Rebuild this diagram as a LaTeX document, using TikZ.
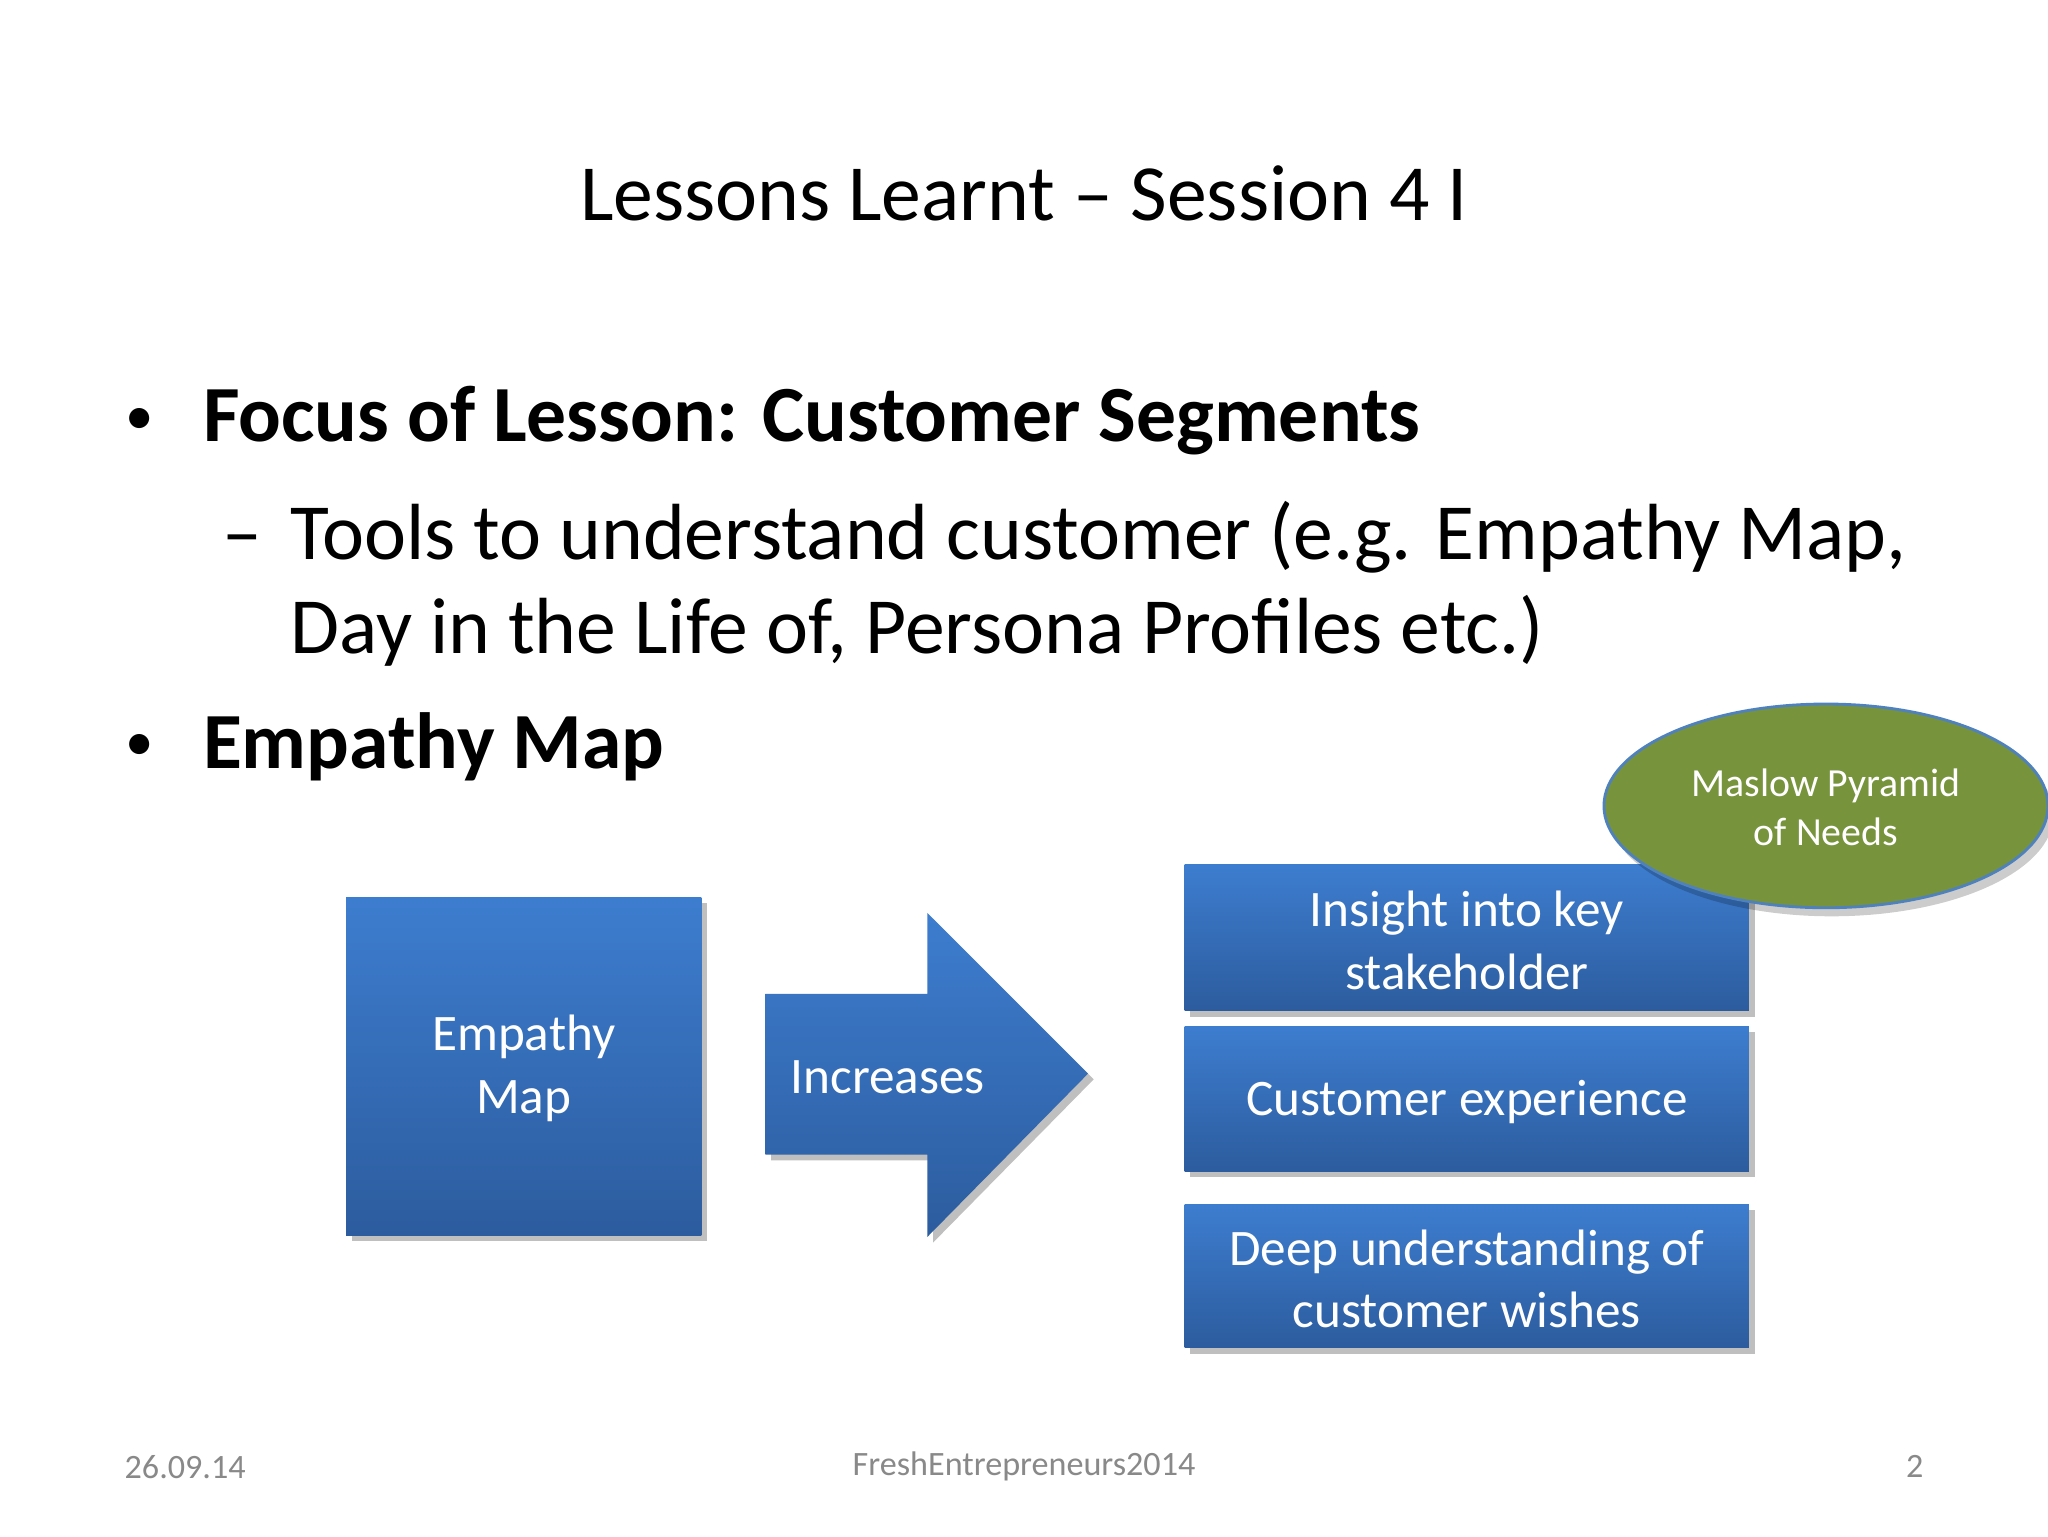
\documentclass[tikz,border=0pt]{standalone}
\usepackage{fontspec}
\setmainfont{Carlito}
\usetikzlibrary{shadows}
\definecolor{btop}{HTML}{3D7DCF}
\definecolor{bbot}{HTML}{2C5C9E}
\definecolor{olive}{HTML}{77933C}
\definecolor{eborder}{HTML}{4F81BD}
\definecolor{foot}{HTML}{898989}
\tikzset{
  blueshape/.style={top color=btop,bottom color=bbot,draw=none,
    drop shadow={shadow xshift=2pt,shadow yshift=-2pt,fill=black,opacity=0.25}},
  boxtext/.style={text=white,font=\fontsize{18}{22}\selectfont,align=center},
  foottext/.style={text=foot,font=\fontsize{12}{14}\selectfont,inner sep=0pt},
  bul/.style={anchor=base west,inner sep=0pt,font=\fontsize{20}{24}\selectfont},
  bigtext/.style={anchor=base west,inner sep=0pt,font=\bfseries\fontsize{28}{34}\selectfont},
  subtext/.style={anchor=base west,inner sep=0pt,font=\fontsize{28}{34}\selectfont},
}
\begin{document}
\begin{tikzpicture}[x=0.4592pt,y=-0.4592pt]
\useasboundingbox (0,0) rectangle (1568,1176);
\fill[white] (0,0) rectangle (1568,1176);
\node[font=\fontsize{28}{34}\selectfont] (title) at (784,148) {Lessons Learnt – Session 4 I};
\node[bul] (d1) at (96,333) {•};
\node[bigtext] (b1) at (155,338) {Focus of Lesson: Customer Segments};
\node[subtext] (dash) at (170,428) {–};
\node[subtext] (s1) at (222,428) {Tools to understand customer (e.g. Empathy Map,};
\node[subtext] (s2) at (222,500) {Day in the Life of, Persona Profiles etc.)};
\node[bul] (d2) at (96,582) {•};
\node[bigtext] (b2) at (155,588) {Empathy Map};
% empathy box
\path[blueshape] (265,687) rectangle (537,946);
\node[boxtext] (em) at (401,818) {Empathy\\Map};
% arrow
\path[blueshape] (586,761) -- (710,761) -- (710,699) -- (833,822) -- (710,947) -- (710,884) -- (586,884) -- cycle;
\node[boxtext,anchor=west,inner sep=0pt] (inc) at (605,825) {Increases};
% boxes
\path[blueshape] (907,662) rectangle (1339,774);
\node[boxtext] (k1) at (1123,720) {Insight into key\\stakeholder};
\path[blueshape] (907,786) rectangle (1339,897);
\node[boxtext] (k2) at (1123,844) {Customer experience};
\path[blueshape] (907,922) rectangle (1339,1032);
\node[boxtext] (k3) at (1123,979) {Deep understanding of\\customer wishes};
% ellipse
\path[fill=olive,draw=eborder,line width=1pt,drop shadow={shadow xshift=2pt,shadow yshift=-3pt,fill=black,opacity=0.2}] (1398,617) ellipse [x radius=170,y radius=78];
\node[text=white,font=\fontsize{14}{17}\selectfont,align=center] (mas) at (1398,618) {Maslow Pyramid\\of Needs};
% footer
\node[foottext,anchor=west] (f1) at (95,1123) {26.09.14};
\node[foottext] (f2) at (784,1123) {FreshEntrepreneurs2014};
\node[foottext,anchor=east] (f3) at (1473,1123) {2};
\end{tikzpicture}
\end{document}
